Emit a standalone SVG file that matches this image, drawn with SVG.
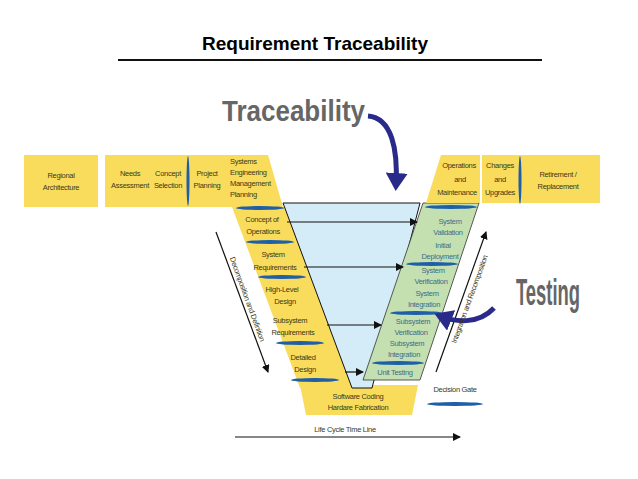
<svg xmlns="http://www.w3.org/2000/svg" width="638" height="479" viewBox="0 0 638 479">
<style>
.t{font-family:"Liberation Sans",Arial,sans-serif;font-size:7.5px;fill:#3a3a1a;text-anchor:middle;letter-spacing:-0.3px}
.s{text-anchor:start}
.g{font-family:"Liberation Sans",Arial,sans-serif;font-size:7.5px;fill:#3d6e8a;text-anchor:middle;letter-spacing:-0.3px}
.y{fill:#f9dc5c}
.gate{fill:#1f5fa8}
.ar{stroke:#111;stroke-width:1.2;fill:none;marker-end:url(#ah)}
.big{font-family:"Liberation Sans",Arial,sans-serif;font-weight:bold;fill:#666}
</style>
<defs>
<marker id="ah" markerWidth="8" markerHeight="8" refX="7" refY="4" orient="auto" markerUnits="userSpaceOnUse"><path d="M0,0 L8,4 L0,8 z" fill="#111"/></marker>
<marker id="bh" markerWidth="22" markerHeight="22" refX="12" refY="11" orient="auto" markerUnits="userSpaceOnUse"><path d="M0,0 L18,11 L0,22 z" fill="#2a2a8a"/></marker>
</defs>
<rect width="638" height="479" fill="#fff"/>
<text x="315" y="50" font-family="Liberation Sans,Arial,sans-serif" font-weight="bold" font-size="19" text-anchor="middle">Requirement Traceability</text>
<line x1="118" y1="60" x2="542" y2="60" stroke="#111" stroke-width="2"/>

<g id="top-left">
<rect class="y" x="24" y="155" width="74" height="52"/>
<text class="t" x="61" y="178">Regional</text><text class="t" x="61" y="190">Architecture</text>
<path class="y" d="M105,155 H268 L283,207 H105 z"/>
<text class="t" x="130" y="176">Needs</text><text class="t" x="130" y="188">Assessment</text>
<text class="t" x="168" y="176">Concept</text><text class="t" x="168" y="188">Selection</text>
<ellipse class="gate" cx="188" cy="181" rx="1.5" ry="25"/>
<text class="t" x="207" y="176">Project</text><text class="t" x="207" y="188">Planning</text>
<text class="t s" x="230" y="164">Systems</text>
<text class="t s" x="230" y="175">Engineering</text>
<text class="t s" x="230" y="186">Management</text>
<text class="t s" x="230" y="197">Planning</text>
</g>

<g id="left-arm">
<path class="y" d="M232,207 H285 L352,388 H300 z"/>
<path class="y" d="M300,385 H418 L412,415 H306 z"/>
<text class="t" x="262" y="222">Concept of</text><text class="t" x="263" y="234">Operations</text>
<text class="t" x="273" y="257">System</text><text class="t" x="275" y="270">Requirements</text>
<text class="t" x="282" y="292">High-Level</text><text class="t" x="285" y="304">Design</text>
<text class="t" x="290" y="323">Subsystem</text><text class="t" x="293" y="335">Requirements</text>
<text class="t" x="303" y="360">Detailed</text><text class="t" x="305" y="372">Design</text>
<text class="t" x="358" y="399">Software Coding</text><text class="t" x="358" y="410">Hardare Fabrication</text>
</g>

<g id="cone">
<path d="M283,203 H420 L372,388 H352 z" fill="#d4ecf7" stroke="#111" stroke-width="1"/>
</g>

<g id="right-arm">
<path d="M423,203 H479 L420,380 H363 z" fill="#c4dfb0" stroke="#333" stroke-width="0.8"/>
<text class="g" x="450" y="224">System</text><text class="g" x="448" y="235">Validation</text>
<text class="g" x="443" y="248">Initial</text><text class="g" x="440" y="259">Deployment</text>
<text class="g" x="433" y="273">System</text><text class="g" x="431" y="284">Verification</text>
<text class="g" x="427" y="296">System</text><text class="g" x="424" y="307">Integration</text>
<text class="g" x="413" y="324">Subsystem</text><text class="g" x="411" y="335">Verification</text>
<text class="g" x="407" y="346">Subsystem</text><text class="g" x="404" y="357">Integration</text>
<text class="g" x="395" y="375">Unit Testing</text>
</g>

<g id="top-right">
<path class="y" d="M441,155 H480 V203 H426 z"/>
<text class="t" x="459" y="168">Operations</text><text class="t" x="460" y="182">and</text><text class="t" x="457" y="195">Maintenance</text>
<rect class="y" x="482" y="155" width="118" height="48"/>
<text class="t" x="500" y="168">Changes</text><text class="t" x="500" y="182">and</text><text class="t" x="500" y="195">Upgrades</text>
<ellipse class="gate" cx="520" cy="180" rx="1.5" ry="24"/>
<text class="t" x="558" y="177">Retirement /</text><text class="t" x="558" y="189">Replacement</text>
</g>

<g id="gates">
<ellipse class="gate" cx="260" cy="208" rx="24" ry="2"/>
<ellipse class="gate" cx="270" cy="242" rx="24" ry="2"/>
<ellipse class="gate" cx="282" cy="277" rx="24" ry="2"/>
<ellipse class="gate" cx="300" cy="343" rx="24" ry="2"/>
<ellipse class="gate" cx="315" cy="380" rx="24" ry="2"/>
<ellipse class="gate" cx="451" cy="207" rx="26" ry="2"/>
<ellipse class="gate" cx="432" cy="264" rx="26" ry="2"/>
<ellipse class="gate" cx="416" cy="313" rx="26" ry="2"/>
<ellipse class="gate" cx="398" cy="363" rx="26" ry="2"/>
<ellipse class="gate" cx="455" cy="404" rx="28" ry="2"/>
</g>
<text class="t" x="455" y="392" fill="#333">Decision Gate</text>

<g id="connectors">
<line class="ar" x1="287" y1="222" x2="417" y2="222"/>
<line class="ar" x1="304" y1="267" x2="403" y2="267"/>
<line class="ar" x1="327" y1="325" x2="381" y2="325"/>
<line class="ar" x1="345" y1="372" x2="363" y2="372"/>
<line class="ar" x1="216" y1="232" x2="268" y2="372"/>
<line class="ar" x1="436" y1="372" x2="486" y2="232"/>
<line class="ar" x1="235" y1="437" x2="460" y2="437"/>
<path d="M368,116 C392,118 398,150 396,185" stroke="#2a2a8a" stroke-width="5" fill="none" marker-end="url(#bh)"/>
<path d="M494,308 C478,325 455,322 440,316" stroke="#2a2a8a" stroke-width="5" fill="none" marker-end="url(#bh)"/>
</g>
<text class="t" transform="translate(245,300) rotate(70)" fill="#333">Decomposition and Definition</text>
<text class="t" transform="translate(472,300) rotate(-70)" fill="#333">Integration and Recomposition</text>
<text class="t" x="345" y="432" font-size="7">Life Cycle Time Line</text>
<text class="big" x="222" y="121" font-size="30" textLength="143" lengthAdjust="spacingAndGlyphs">Traceability</text>
<text class="big" x="516" y="305" font-size="36" textLength="64" lengthAdjust="spacingAndGlyphs">Testing</text>
</svg>
